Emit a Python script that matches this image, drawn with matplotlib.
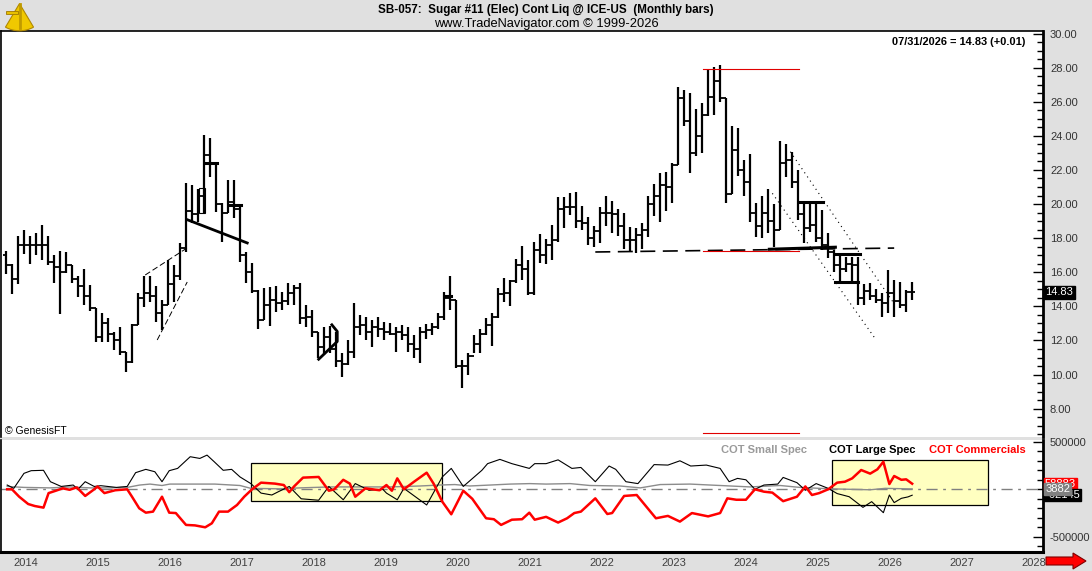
import matplotlib
matplotlib.use('Agg')
import matplotlib.pyplot as plt
import matplotlib.transforms as mtransforms
from matplotlib.patches import Rectangle, Polygon, Wedge
import numpy as np
import pandas as pd

plt.rcParams['font.family'] = ['Liberation Sans', 'DejaVu Sans']

# monthly bars, Dec 2013 .. Jul 2026
months = pd.period_range('2013-12', periods=152, freq='M')

highs = [17.25, 16.5, 18.1, 18.5, 18.1, 18.3, 18.8, 18.1, 17.0, 17.25,
         17.2, 16.4, 15.8, 16.2, 15.25, 13.9, 13.6, 13.3, 12.5, 12.8,
         11.3, 12.96, 14.8, 15.8, 15.8, 15.2, 14.4, 16.7, 16.4, 17.7,
         21.25, 21.1, 20.9, 24.05, 23.9, 22.4, 20.05, 21.4, 21.4, 19.95,
         17.2, 16.55, 14.95, 15.1, 15.15, 15.2, 14.85, 15.4, 15.25, 15.35,
         14.1, 13.8, 12.5, 12.8, 12.85, 12.5, 11.26, 12.0, 14.2, 13.5,
         13.4, 13.2, 13.4, 13.1, 13.0, 12.8, 12.9, 12.8, 12.3, 12.8,
         12.96, 13.0, 13.6, 14.85, 15.8, 14.4, 10.85, 11.26, 12.3, 12.7,
         13.3, 13.6, 15.07, 15.66, 15.55, 16.78, 17.54, 16.7, 17.8, 18.25,
         17.95, 18.8, 20.4, 20.4, 20.65, 20.7, 19.9, 19.25, 18.7, 19.83,
         20.47, 20.2, 19.7, 19.5, 18.67, 18.6, 18.9, 20.47, 21.2, 21.8,
         21.9, 22.4, 26.87, 26.7, 26.5, 25.6, 25.9, 27.85, 28.05, 28.15,
         26.2, 24.6, 24.45, 22.6, 22.95, 20.05, 20.5, 20.9, 20.0, 23.7,
         23.5, 23.05, 22.0, 20.0, 20.1, 20.07, 19.65, 18.3, 17.3, 17.1,
         16.9, 16.9, 16.92, 15.3, 15.37, 15.0, 14.78, 16.15, 15.55, 15.43,
         14.96, 15.43]
lows = [15.88, 14.7, 15.3, 17.1, 16.5, 17.0, 16.7, 16.4, 15.4, 13.55,
        15.95, 15.4, 14.55, 14.1, 13.7, 11.9, 11.9, 11.9, 11.45, 11.15,
        10.15, 10.7, 12.9, 13.95, 14.25, 13.1, 12.6, 14.1, 14.25, 15.55,
        17.2, 18.9, 18.95, 19.5, 21.6, 19.55, 17.8, 19.5, 19.2, 16.6,
        15.4, 14.8, 12.7, 13.2, 12.85, 13.67, 13.8, 14.1, 14.1, 12.95,
        12.8, 12.2, 10.97, 11.15, 11.26, 10.45, 9.86, 10.55, 11.0, 12.3,
        12.0, 11.6, 12.2, 12.0, 12.3, 11.3, 12.0, 11.3, 11.0, 10.7,
        12.1, 12.3, 12.7, 13.2, 13.8, 10.4, 9.2, 10.0, 11.26, 11.26,
        12.3, 11.7, 13.3, 14.26, 14.0, 15.37, 15.55, 14.67, 14.67, 16.55,
        16.5, 16.7, 17.8, 18.6, 19.35, 18.6, 18.5, 17.6, 17.5, 17.72,
        18.7, 18.3, 18.1, 17.35, 17.2, 17.15, 17.35, 18.07, 19.3, 18.95,
        19.6, 20.05, 22.3, 24.6, 21.85, 22.8, 23.0, 25.15, 25.25, 26.0,
        20.05, 20.6, 21.65, 20.5, 18.95, 18.05, 18.0, 18.3, 17.5, 18.5,
        21.6, 20.95, 19.07, 17.7, 18.35, 17.8, 17.3, 16.84, 16.0, 15.42,
        16.0, 15.4, 14.08, 14.08, 14.37, 14.17, 13.4, 13.6, 13.35, 13.9,
        13.67, 14.37]
opens = [17.0, 16.4, 15.6, 17.6, 17.6, 17.6, 17.6, 17.6, 16.6, 16.3,
         16.0, 16.4, 15.6, 15.2, 14.6, 13.9, 12.2, 13.0, 12.4, 12.0,
         11.3, 10.75, 12.9, 14.5, 14.8, 14.6, 13.6, 14.1, 15.3, 15.8,
         17.4, 19.6, 19.4, 20.5, 22.9, 22.4, 20.0, 19.5, 20.1, 19.7,
         17.0, 16.0, 14.9, 13.2, 14.1, 14.4, 14.2, 14.3, 14.8, 15.1,
         13.3, 13.4, 12.5, 11.6, 12.2, 11.5, 10.8, 10.6, 11.3, 12.8,
         12.9, 12.5, 12.8, 12.7, 12.5, 12.4, 12.5, 12.3, 11.8, 11.5,
         12.5, 12.6, 12.8, 13.4, 14.5, 14.4, 10.5, 10.5, 11.1, 11.8,
         12.4, 12.9, 13.4, 14.7, 14.8, 15.5, 16.4, 16.2, 14.8, 17.3,
         17.0, 17.6, 17.9, 19.7, 19.8, 19.8, 19.0, 18.9, 18.0, 18.4,
         19.5, 19.5, 19.4, 18.7, 17.9, 17.9, 18.2, 18.5, 20.0, 20.5,
         21.1, 21.0, 22.3, 26.2, 24.9, 23.0, 24.0, 25.2, 26.3, 27.2,
         26.2, 20.6, 23.2, 22.0, 21.3, 19.5, 18.7, 19.5, 19.0, 18.5,
         22.4, 22.6, 21.3, 19.4, 18.6, 18.8, 18.0, 17.6, 17.2, 16.4,
         16.2, 16.5, 16.4, 14.5, 14.9, 14.6, 14.4, 14.2, 14.8, 14.3,
         14.1, 14.82]
closes = [16.4, 15.6, 17.6, 17.6, 17.6, 17.6, 17.6, 16.6, 16.3, 16.0,
          16.4, 15.6, 15.2, 14.6, 13.9, 12.2, 13.0, 12.4, 12.0, 11.3,
          10.75, 12.9, 14.5, 14.8, 14.6, 13.6, 14.1, 15.3, 15.8, 17.4,
          19.6, 19.4, 20.5, 22.9, 22.4, 20.0, 19.5, 20.1, 19.7, 17.0,
          16.0, 14.9, 13.2, 14.1, 14.4, 14.2, 14.3, 14.8, 15.1, 13.3,
          13.4, 12.5, 11.6, 12.2, 11.5, 10.8, 10.6, 11.3, 12.8, 12.9,
          12.5, 12.8, 12.7, 12.5, 12.4, 12.5, 12.3, 11.8, 11.5, 12.5,
          12.6, 12.8, 13.4, 14.5, 14.4, 10.5, 10.5, 11.1, 11.8, 12.4,
          12.9, 13.4, 14.7, 14.8, 15.5, 16.4, 16.2, 14.8, 17.3, 17.0,
          17.6, 17.9, 19.7, 19.8, 19.8, 19.0, 18.9, 18.0, 18.4, 19.5,
          19.5, 19.4, 18.7, 17.9, 17.9, 18.2, 18.5, 20.0, 20.5, 21.1,
          21.0, 22.3, 26.2, 24.9, 23.0, 24.0, 25.2, 26.3, 27.2, 26.2,
          20.6, 23.2, 22.0, 21.3, 19.5, 18.7, 19.5, 19.0, 18.5, 22.4,
          22.6, 21.3, 19.4, 18.6, 18.8, 18.0, 17.6, 17.2, 16.4, 16.2,
          16.5, 16.4, 14.5, 14.9, 14.6, 14.4, 14.2, 14.8, 14.3, 14.1,
          14.82, 14.83]

# COT net positions (thousands of contracts), x = bar number
comm_x = [0.2, 1, 2.2, 3.7, 4.8, 6.25, 7.1, 8.3, 9.45, 10.6,
          11.8, 13.2, 14.7, 15.25, 16.4, 18.2, 20.2, 21, 22.2, 23.3,
          24.5, 26, 27.2, 28.3, 30, 31.5, 33.2, 34.3, 35.5, 37,
          38.5, 39.7, 41, 42.5, 44.8, 46.3, 47.2, 48, 49.5, 52.1,
          53.8, 54.7, 56.2, 57.3, 58.2, 59.9, 62.25, 63.4, 64.3, 65.2,
          66.3, 68, 70.1, 71.25, 72.7, 74.2, 76.2, 77.7, 80, 81.3,
          82.5, 84.3, 86, 87.2, 88.1, 90, 92, 93.5, 94.7, 95.8,
          98.2, 100.2, 101, 103, 105.1, 108.3, 110.3, 112.3, 114.3, 117,
          119, 120.2, 121.7, 123.3, 124.8, 126.3, 127.7, 129.5, 131.8, 133.2,
          134.3, 135.5, 137, 138.5, 139.8, 141, 142.5, 144, 145.2, 146.2,
          147.2, 148, 149.2, 150, 151]
comm_k = [0, 0, -78, -155, -176, -193, -40, -15, 10, -5,
          20, -70, 0, 30, -40, -10, 0, -78, -200, -246,
          -235, -78, -246, -250, -375, -380, -400, -358, -235, -235,
          -165, -78, 0, 70, 60, 45, -30, 30, 123, 130,
          -15, 0, 100, 60, -78, 10, -10, 45, -15, 115,
          0, 80, 175, 60, -130, -263, -15, -100, -305, -315,
          -375, -320, -315, -246, -320, -290, -350, -305, -250, -235,
          -95, -260, -250, -70, -60, -305, -280, -340, -250, -285,
          -250, -95, -110, -110, 0, -25, -35, -125, -78, 30,
          -60, -40, 0, 70, 80, 115, 203, 165, 210, 290,
          55, 140, 100, 105, 58.883]

large_x = [0.2, 1.3, 3, 4.2, 6.25, 7.4, 9.2, 11.2, 12, 13.2,
           14.7, 15.8, 18.4, 20.2, 21.6, 23.3, 24.8, 26, 27.2, 28.6,
           30.7, 32.3, 33.5, 34.7, 36.2, 37.6, 39, 40.8, 42.5, 44.3,
           45.4, 47.2, 49.2, 52.1, 53.8, 56.2, 58.2, 60.5, 62.8, 63.4,
           65.2, 66.3, 70.1, 72.7, 74.2, 76.2, 79.3, 80.25, 82.3, 84.3,
           87.2, 88.1, 90, 92, 94.3, 95.8, 98.2, 100.5, 101.6, 103.3,
           105.3, 108, 110.3, 112.3, 114.1, 116.7, 119, 120.5, 121.9, 123.3,
           124.8, 126.3, 128.6, 129.5, 131.8, 133.2, 135, 137, 138.5, 140.5,
           142.8, 144.25, 146.2, 147.2, 148, 149.2, 150.3, 151]
large_k = [45, 10, 168, 196, 200, 80, 30, 45, 0, 80,
           30, 38, 20, 30, 175, 210, 185, 80, 196, 220,
           343, 325, 360, 290, 200, 210, 130, 60, -40, -60,
           -25, 30, -100, -115, 30, -110, 60, -10, 0, -40,
           -110, 10, -165, 130, 220, 30, 200, 270, 315, 270,
           220, 270, 270, 310, 220, 230, 80, 245, 210, 80,
           60, 260, 255, 300, 245, 255, 220, 80, 115, 100,
           0, 45, 55, 125, 70, -10, 60, 10, -45, -78,
           -190, -130, -246, -60, -140, -95, -80, -62.145]

small_x = [0.2, 3, 7.3, 10.7, 14, 17.3, 20.2, 22.3, 24, 26,
           27.3, 32.3, 34.8, 39, 40.8, 45.7, 49, 54, 59, 64,
           69, 72.3, 74.8, 77.3, 80.7, 84, 87.3, 90, 94, 97.3,
           102.3, 105.7, 109, 114, 119, 124, 129, 132.3, 137.3, 144,
           146.5, 151]
small_k = [30, 20, 15, 25, 15, 15, 20, 45, 55, 40,
           55, 55, 55, 40, 10, 5, 15, 25, 25, 25,
           35, 45, 50, 35, 45, 55, 60, 55, 60, 40,
           35, 15, 50, 55, 40, 25, 40, 20, 5, -5,
           10, 3.882]

years = list(range(2014, 2029))

# drawing tools on the chart (bar number, price)
channel_up = ([23.2, 30.2], [15.84, 17.43])
channel_dn = ([25.2, 30.2], [12.03, 15.43])
trend_2016 = ([30.3, 40.2], [19.07, 17.72])
tri_2018 = ([52.1, 55.2, 55.2, 54.3], [10.9, 11.94, 12.53, 12.92])
support_dash = ([98.2, 148.0], [17.19, 17.42])
support_thick = ([127.2, 138.2], [17.35, 17.47])
fib_levels = [27.9, 17.22, 6.55]
fib_span = (116.2, 132.2)
dotted_up = ([130.7, 147.8], [23.07, 14.26])
dotted_dn = ([127.7, 144.8], [20.63, 12.13])
box_levels = [(33.1, 35.2, 22.39), (37.2, 39.2, 19.95), (73.2, 74.1, 14.61),
              (132.3, 136.2, 20.14), (138.2, 142.3, 17.1), (138.2, 142.0, 15.45)]
cot_boxes = [(40.8, 72.7, -123, 274), (137.6, 163.7, -165, 308)]

W, H = 1092, 571


def fbox(l, t, r, b):
    return [l / W, 1 - b / H, (r - l) / W, (b - t) / H]


fig = plt.figure(figsize=(W / 100, H / 100), dpi=100, facecolor='#e0e0e0')
ax = fig.add_axes(fbox(1, 31, 1043, 437))
cot = fig.add_axes(fbox(1, 440, 1043, 552))

idx = np.arange(len(months))
xlim = (-0.83, 172.8)

# price panel
ax.set_xlim(*xlim)
ax.set_ylim(6.34, 30.15)
ax.vlines(idx, lows, highs, color='black', lw=1.6)
ax.hlines(opens, idx - 0.5, idx, color='black', lw=1.3)
ax.hlines(closes, idx, idx + 0.5, color='black', lw=1.3)

ax.plot(*channel_up, color='black', lw=0.7, dashes=(6, 3))
ax.plot(*channel_dn, color='black', lw=0.7, dashes=(6, 3))
ax.plot(*trend_2016, color='black', lw=2)
ax.add_patch(Rectangle((32.1, 19.48), 1.0, 1.46, fill=False, ec='black', lw=0.8))
ax.plot(*tri_2018, color='black', lw=2)
for x0, x1, lvl in box_levels:
    ax.plot([x0, x1], [lvl, lvl], color='black', lw=2.2)
ax.plot(*support_dash, color='black', lw=1.2, dashes=(9, 4.5))
ax.plot(*support_thick, color='black', lw=2.2)
for lvl in fib_levels:
    ax.plot(fib_span, [lvl, lvl], color='#e00000', lw=0.8)
ax.plot(*dotted_up, color='black', lw=0.8, dashes=(1, 3.5))
ax.plot(*dotted_dn, color='black', lw=0.8, dashes=(1, 3.5))

ax.yaxis.tick_right()
ax.set_yticks(np.arange(8, 31, 2))
ax.set_yticks(np.arange(6.5, 30.1, 0.5), minor=True)
ax.set_yticklabels(['%.2f' % v for v in np.arange(8, 31, 2)])
ax.tick_params(axis='y', which='major', direction='in', length=7, width=1,
               labelsize=8, labelcolor='#333333', pad=5)
ax.tick_params(axis='y', which='minor', direction='in', length=4, width=1)
ax.tick_params(axis='x', bottom=False, labelbottom=False)
for s in ['left', 'top']:
    ax.spines[s].set_linewidth(1.2)
ax.spines['right'].set_linewidth(2)
ax.spines['bottom'].set_visible(False)

last, prev = closes[-1], closes[-2]
end_day = months[-1].to_timestamp(how='end')
ax.text(0.983, 0.985, '%s = %.2f (%+.2f)' % (end_day.strftime('%m/%d/%Y'), last, last - prev),
        transform=ax.transAxes, ha='right', va='top', fontsize=7.9, fontweight='bold')
ax.text(0.004, 0.003, '© GenesisFT', transform=ax.transAxes, ha='left', va='bottom', fontsize=7.5)
rt = mtransforms.blended_transform_factory(ax.transAxes, ax.transData)
ax.text(1.002, last, '%.2f' % last, transform=rt, ha='left', va='center', fontsize=8,
        color='white', bbox=dict(boxstyle='square,pad=0.15', fc='black', ec='black'), clip_on=False)

# COT panel
cot.set_xlim(*xlim)
cot.set_ylim(-660000, 519000)
for x0, x1, v0, v1 in cot_boxes:
    cot.add_patch(Rectangle((x0, v0 * 1000), x1 - x0, (v1 - v0) * 1000,
                            fc='#ffffc0', ec='black', lw=0.9, zorder=1))
cot.axhline(0, color='#808080', lw=1, dashes=(8, 4, 2, 4), zorder=2)
cot.plot(small_x, np.array(small_k) * 1000, color='#8c8c8c', lw=1, zorder=3)
cot.plot(large_x, np.array(large_k) * 1000, color='black', lw=0.8, zorder=4)
cot.plot(comm_x, np.array(comm_k) * 1000, color='#ff0000', lw=1.8, zorder=5)

cot.yaxis.tick_right()
cot.set_yticks([-500000, 500000])
cot.set_yticks(np.arange(-600000, 500001, 100000), minor=True)
cot.set_yticklabels(['-500000', '500000'])
cot.tick_params(axis='y', which='major', direction='in', length=7, width=1,
                labelsize=8, labelcolor='#333333', pad=5)
cot.tick_params(axis='y', which='minor', direction='in', length=4, width=1)
cot.set_xticks([(y - 2014) * 12 + 1 + 2.3 for y in years])
cot.set_xticklabels([str(y) for y in years])
cot.tick_params(axis='x', length=0, labelsize=8, labelcolor='#404040', pad=4)
cot.spines['top'].set_visible(False)
cot.spines['left'].set_linewidth(1.2)
cot.spines['right'].set_linewidth(2)
cot.spines['bottom'].set_linewidth(2.2)

cot.text(0.7735, 0.955, 'COT Small Spec', transform=cot.transAxes, color='#9a9a9a',
         fontsize=8, fontweight='bold', ha='right', va='top')
cot.text(0.8775, 0.955, 'COT Large Spec', transform=cot.transAxes, color='black',
         fontsize=8, fontweight='bold', ha='right', va='top')
cot.text(0.983, 0.955, 'COT Commercials', transform=cot.transAxes, color='#ff0000',
         fontsize=8, fontweight='bold', ha='right', va='top')

# last-value flags, stacked as the platform draws them
ct = mtransforms.blended_transform_factory(cot.transAxes, cot.transData)
for val, fc in [(comm_k[-1], '#ff0000'), (large_k[-1], 'black'), (small_k[-1], '#808080')]:
    cot.text(1.002, val * 1000, '%d' % round(val * 1000), transform=ct, ha='left', va='center',
             fontsize=8, color='white', clip_on=False,
             bbox=dict(boxstyle='square,pad=0.1', fc=fc, ec=fc))

# header
fig.text(0.5, 1 - 9.5 / H, 'SB-057:  Sugar #11 (Elec) Cont Liq @ ICE-US  (Monthly bars)',
         ha='center', va='center', fontsize=8.4, fontweight='bold')
fig.text(0.5, 1 - 24 / H, 'www.TradeNavigator.com © 1999-2026', ha='center', va='center', fontsize=9.3)

# logo and scroll arrow
logo = fig.add_axes(fbox(3, 2, 36, 34))
logo.set_xlim(0, 1)
logo.set_ylim(0, 1)
logo.axis('off')
logo.add_patch(Wedge((0.5, 0.95), 0.85, 240, 300, fc='#f0c800', ec='#b08800', lw=0.8))
logo.add_patch(Rectangle((0.1, 0.62), 0.35, 0.1, fc='#e8c000', ec='#a07800', lw=0.6))
logo.plot([0.5, 0.5], [0.2, 0.95], color='#c09a00', lw=2)

arrow_px = [(1046, 557), (1073, 557), (1073, 553), (1086, 561), (1073, 569), (1073, 565), (1046, 565)]
fig.patches.append(Polygon([(px / W, 1 - py / H) for px, py in arrow_px], closed=True,
                           fc='#ff0000', ec='#800000', lw=0.8, transform=fig.transFigure))

fig.savefig('out.png', dpi=100, facecolor=fig.get_facecolor())
